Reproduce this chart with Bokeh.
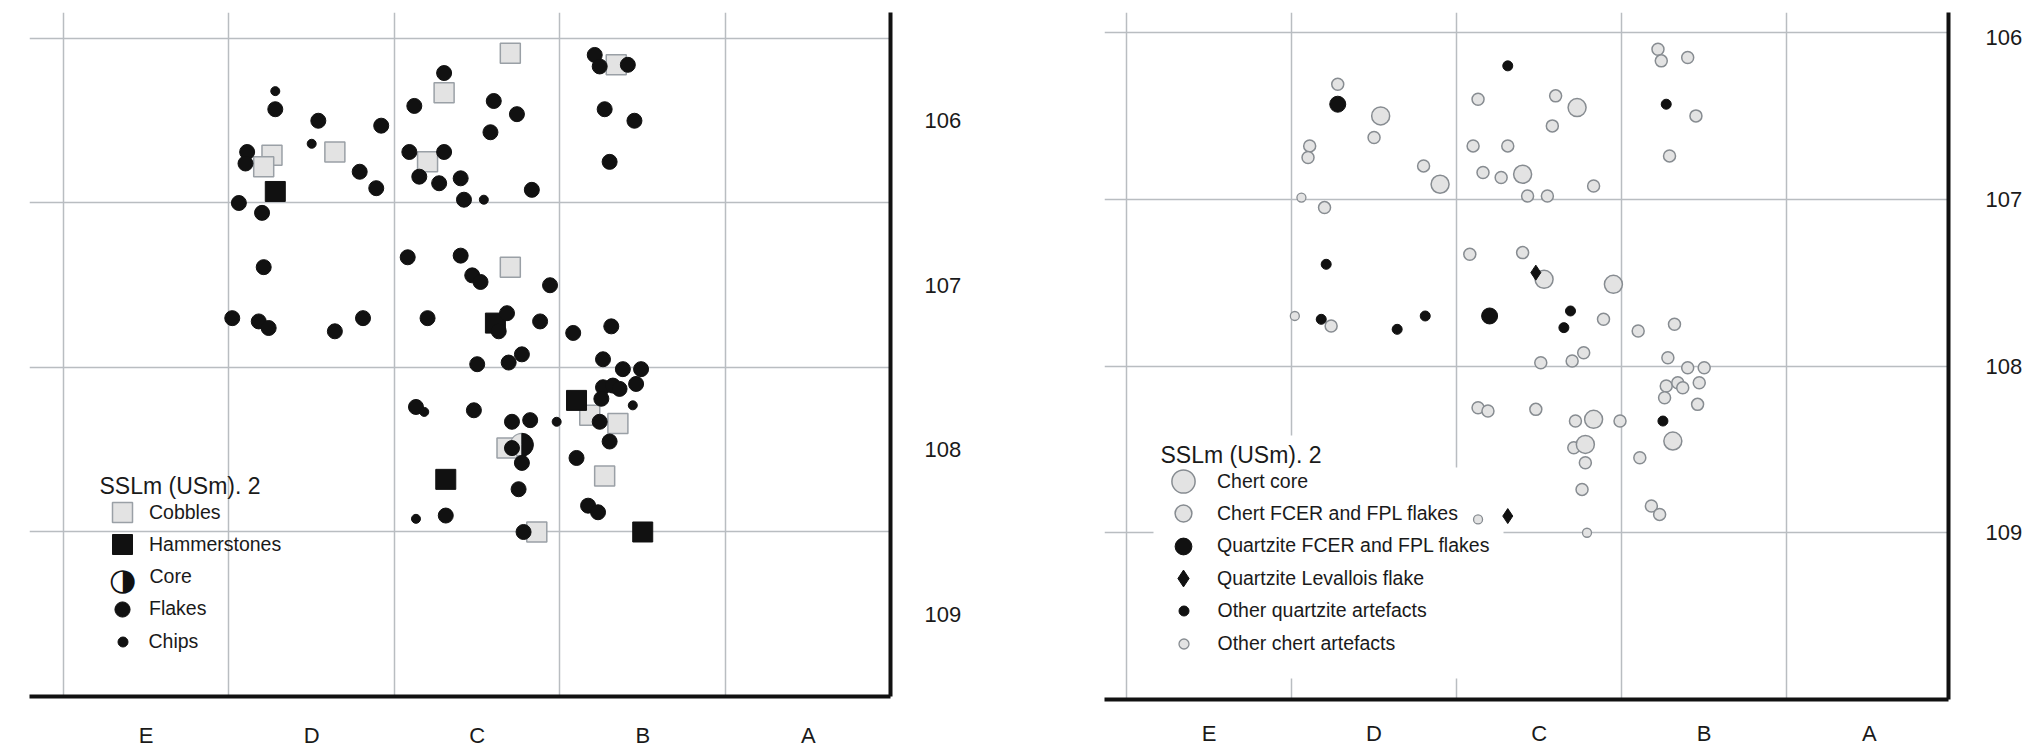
from bokeh.plotting import figure
from bokeh.models import Range1d, FixedTicker, Legend, LegendItem, Label, BoxAnnotation
from bokeh.layouts import row
from bokeh.embed import file_html
from bokeh.resources import INLINE
import math

# ---------------- data (metres within the excavation grid) ----------------
col_labels = ["E", "D", "C", "B", "A"]
row_labels = ["106", "107", "108", "109"]
legend_title = "SSLm (USm). 2"

# Left panel
cobbles_x = [2.30, 2.70, 3.34, 1.64, 1.26, 1.21, 2.20, 2.70, 3.18, 3.35, 2.68, 3.27, 2.86]
cobbles_y = [0.33, 0.09, 0.16, 0.69, 0.71, 0.78, 0.75, 1.39, 2.29, 2.34, 2.49, 2.66, 3.00]

hammer_x = [1.28, 2.61, 3.10, 2.31, 3.50]
hammer_y = [0.93, 1.73, 2.20, 2.68, 3.00]

core_x = [2.77]
core_y = [2.47]

flakes_x = [2.30, 2.12, 2.60, 2.58, 2.74, 1.28, 1.54, 1.92, 1.11, 1.10, 1.79, 1.89, 2.09, 2.30,
            2.15, 2.27, 2.40, 2.42, 2.83, 3.21, 3.24, 3.41, 3.27, 3.45, 3.30, 1.06, 1.20, 1.21,
            2.08, 2.40, 2.47, 2.52, 2.94, 1.02, 1.18, 1.24, 1.64, 1.81, 2.20, 2.68, 2.63, 2.88,
            3.08, 3.31, 2.50, 2.69, 2.77, 3.26, 3.38, 3.49, 3.46, 3.26, 3.32, 3.36, 3.25, 3.24,
            3.30, 3.10, 3.17, 3.23, 2.13, 2.48, 2.71, 2.82, 2.71, 2.77, 2.75, 2.31, 2.78]
flakes_y = [0.21, 0.41, 0.38, 0.57, 0.46, 0.43, 0.50, 0.53, 0.69, 0.76, 0.81, 0.91, 0.69, 0.69,
            0.84, 0.88, 0.85, 0.98, 0.92, 0.10, 0.17, 0.16, 0.43, 0.50, 0.75, 1.00, 1.06, 1.39,
            1.33, 1.32, 1.44, 1.48, 1.50, 1.70, 1.72, 1.76, 1.78, 1.70, 1.70, 1.67, 1.78, 1.72,
            1.79, 1.75, 1.98, 1.97, 1.92, 1.95, 2.01, 2.01, 2.10, 2.12, 2.11, 2.13, 2.19, 2.33,
            2.45, 2.55, 2.84, 2.88, 2.24, 2.26, 2.33, 2.32, 2.49, 2.58, 2.74, 2.90, 3.00]

chips_x = [1.28, 1.50, 2.54, 2.18, 2.98, 3.44, 2.13]
chips_y = [0.32, 0.64, 0.98, 2.27, 2.33, 2.23, 2.92]

# Right panel
chert_core_x = [1.54, 1.90, 2.40, 2.73, 2.53, 2.95, 2.83, 2.78, 3.31]
chert_core_y = [0.50, 0.91, 0.85, 0.45, 1.48, 1.51, 2.32, 2.47, 2.45]

chert_flake_x = [1.28, 1.50, 1.11, 1.10, 1.80, 1.20, 2.13, 2.10, 2.31, 2.16, 2.27, 2.43, 2.55,
                 2.60, 2.58, 2.83, 3.22, 3.24, 3.40, 3.45, 3.29, 1.24, 2.08, 2.40, 2.89, 3.10,
                 3.32, 2.77, 2.70, 2.51, 3.28, 3.40, 3.50, 3.47, 3.27, 3.34, 3.37, 3.26, 3.46,
                 3.11, 2.13, 2.19, 2.48, 2.72, 2.99, 2.71, 2.78, 2.76, 3.18, 3.23]
chert_flake_y = [0.31, 0.63, 0.68, 0.75, 0.80, 1.05, 0.40, 0.68, 0.68, 0.84, 0.87, 0.98, 0.98,
                 0.38, 0.56, 0.92, 0.10, 0.17, 0.15, 0.50, 0.74, 1.76, 1.33, 1.32, 1.72, 1.79,
                 1.75, 1.92, 1.97, 1.98, 1.95, 2.01, 2.01, 2.10, 2.12, 2.10, 2.13, 2.19, 2.23,
                 2.55, 2.25, 2.27, 2.26, 2.33, 2.33, 2.49, 2.58, 2.74, 2.84, 2.89]

qz_flake_x = [1.28, 2.20]
qz_flake_y = [0.43, 1.70]

levallois_x = [2.48, 2.31]
levallois_y = [1.44, 2.90]

other_qz_x = [2.31, 1.21, 1.18, 1.64, 1.81, 2.69, 2.65, 3.27, 3.25]
other_qz_y = [0.20, 1.39, 1.72, 1.78, 1.70, 1.67, 1.77, 0.43, 2.33]

other_chert_x = [1.06, 1.02, 2.13, 2.79]
other_chert_y = [0.99, 1.70, 2.92, 3.00]

# ---------------- styling helpers ----------------
FONT = "Liberation Sans"
BLACK = "#111111"
LIGHT = "#e3e3e3"
EDGE = "#9aa0a6"
EDGE2 = "#878c91"
GRIDC = "#b9bdc1"
TXT = "#1a1a1a"


def make_fig(fw, fh, ml, mr, mt, mb, xr, yr, yticks, label_standoff_x, label_standoff_y):
    p = figure(frame_width=fw, frame_height=fh,
               x_range=Range1d(*xr), y_range=Range1d(*yr),
               y_axis_location="right", toolbar_location=None, output_backend="svg",
               min_border_left=ml, min_border_right=mr, min_border_top=mt, min_border_bottom=mb)
    p.outline_line_color = None
    p.background_fill_color = "white"
    p.border_fill_color = "white"
    for ax in (p.xaxis[0], p.yaxis[0]):
        ax.axis_line_width = 4
        ax.axis_line_color = BLACK
        ax.major_tick_line_color = None
        ax.minor_tick_line_color = None
        ax.major_label_text_font = FONT
        ax.major_label_text_font_size = "22px"
        ax.major_label_text_color = TXT
    xt = [i + 0.5 for i in range(len(col_labels))]
    p.xaxis[0].ticker = FixedTicker(ticks=xt)
    p.xaxis[0].major_label_overrides = {t: l for t, l in zip(xt, col_labels)}
    p.xaxis[0].major_label_standoff = label_standoff_x
    p.yaxis[0].ticker = FixedTicker(ticks=yticks)
    p.yaxis[0].major_label_overrides = {t: l for t, l in zip(yticks, row_labels)}
    p.yaxis[0].major_label_standoff = label_standoff_y
    p.xgrid[0].ticker = FixedTicker(ticks=[0, 1, 2, 3, 4])
    p.ygrid[0].ticker = FixedTicker(ticks=[0, 1, 2, 3])
    p.grid.grid_line_color = GRIDC
    p.grid.grid_line_width = 1.5
    return p


def add_legend_column(p, frame_left, frame_bottom, title, title_left, title_y,
                      entries, glyph_cx, text_x, first_y, pitch):
    """Legend drawn as one single-item Legend per entry, so that every entry
    can show its own symbol size (Bokeh scales legend markers with the box)."""
    p.add_layout(Label(x=title_left - frame_left, y=frame_bottom - title_y,
                       x_units="screen", y_units="screen", text=title,
                       text_font=FONT, text_font_size="23px", text_color=TXT,
                       text_align="left", text_baseline="middle"))
    for i, (label, rend, gsize) in enumerate(entries):
        g = int(round(gsize * 2.5))
        yc = first_y + i * pitch
        leg = Legend(items=[LegendItem(label=label, renderers=[rend])],
                     location=(glyph_cx - frame_left - g / 2.0, frame_bottom - yc - g / 2.0),
                     glyph_width=g, glyph_height=g, label_height=g,
                     label_standoff=int(round(text_x - glyph_cx - g / 2.0)),
                     padding=0, margin=0, spacing=0,
                     border_line_color=None, background_fill_alpha=0,
                     label_text_font=FONT, label_text_font_size="19.5px",
                     label_text_color=TXT)
        p.add_layout(leg)


# ---------------- left panel ----------------
p1 = make_fig(861, 684, 29, 150, 9, 61, (-0.205, 4.997), (4.0, -0.158),
              [0.5, 1.5, 2.5, 3.5], 20, 28)

r_cob = p1.scatter(cobbles_x, cobbles_y, marker="square", size=20,
                   fill_color=LIGHT, line_color=EDGE, line_width=1.5)
p1.wedge(core_x, core_y, radius=11.5, radius_units="screen",
         start_angle=math.pi / 2, end_angle=3 * math.pi / 2,
         fill_color=LIGHT, line_color=EDGE, line_width=1.2)
p1.wedge(core_x, core_y, radius=11.5, radius_units="screen",
         start_angle=-math.pi / 2, end_angle=math.pi / 2,
         fill_color=BLACK, line_color=BLACK)
r_ham = p1.scatter(hammer_x, hammer_y, marker="square", size=20,
                   fill_color=BLACK, line_color=BLACK)
r_fl = p1.scatter(flakes_x, flakes_y, marker="circle", size=15,
                  fill_color=BLACK, line_color=BLACK)
r_ch = p1.scatter(chips_x, chips_y, marker="circle", size=9,
                  fill_color=BLACK, line_color=BLACK)
# legend stand-in for the half-filled core symbol (left half light)
r_core_leg = p1.scatter([], [], marker="circle", size=22,
                        fill_color=LIGHT, line_color=EDGE, line_width=1.2)

add_legend_column(p1, 29, 693, legend_title, 99, 482,
                  [("Cobbles", r_cob, 20), ("Hammerstones", r_ham, 20),
                   ("Core", r_core_leg, 22), ("Flakes", r_fl, 15), ("Chips", r_ch, 10)],
                  122, 149, 509, 32.25)
# right half of the core symbol
p1.add_layout(Label(x=93, y=693 - 575.5, x_units="screen", y_units="screen", text="\u25d1",
                    text_font="DejaVu Sans", text_font_size="31px", text_color=BLACK,
                    text_align="center", text_baseline="middle"))

# ---------------- right panel ----------------
p2 = make_fig(844, 687, 64, 83, 12, 55, (-0.133, 4.98), (4.0, -0.12),
              [0.03, 1, 2, 3], 15, 31)

# white box behind the legend (under the marks, above the grid)
p2.add_layout(BoxAnnotation(left=49, right=230, top=264, bottom=225,
                            left_units="screen", right_units="screen",
                            top_units="screen", bottom_units="screen",
                            fill_color="white", fill_alpha=1.0, line_color=None,
                            level="underlay"))
p2.add_layout(BoxAnnotation(left=49, right=399, top=232, bottom=21,
                            left_units="screen", right_units="screen",
                            top_units="screen", bottom_units="screen",
                            fill_color="white", fill_alpha=1.0, line_color=None,
                            level="underlay"))

r_cf = p2.scatter(chert_flake_x, chert_flake_y, marker="circle", size=12,
                  fill_color=LIGHT, line_color=EDGE2, line_width=1.5)
r_oc = p2.scatter(other_chert_x, other_chert_y, marker="circle", size=9,
                  fill_color=LIGHT, line_color=EDGE2, line_width=1.3)
r_cc = p2.scatter(chert_core_x, chert_core_y, marker="circle", size=18,
                  fill_color=LIGHT, line_color=EDGE2, line_width=1.5)
r_qf = p2.scatter(qz_flake_x, qz_flake_y, marker="circle", size=16,
                  fill_color=BLACK, line_color=BLACK)
r_oq = p2.scatter(other_qz_x, other_qz_y, marker="circle", size=10,
                  fill_color=BLACK, line_color=BLACK)
r_lv = p2.scatter(levallois_x, levallois_y, marker="diamond", size=15,
                  fill_color=BLACK, line_color=BLACK)

add_legend_column(p2, 1104, 699, legend_title, 1160, 454,
                  [("Chert core", r_cc, 23),
                   ("Chert FCER and FPL flakes", r_cf, 17),
                   ("Quartzite FCER and FPL flakes", r_qf, 17),
                   ("Quartzite Levallois flake", r_lv, 17),
                   ("Other quartzite artefacts", r_oq, 10),
                   ("Other chert artefacts", r_oc, 10)],
                  1183, 1217, 481, 32.4)

layout = row(p1, p2)
open("out.html", "w").write(file_html(layout, INLINE))
